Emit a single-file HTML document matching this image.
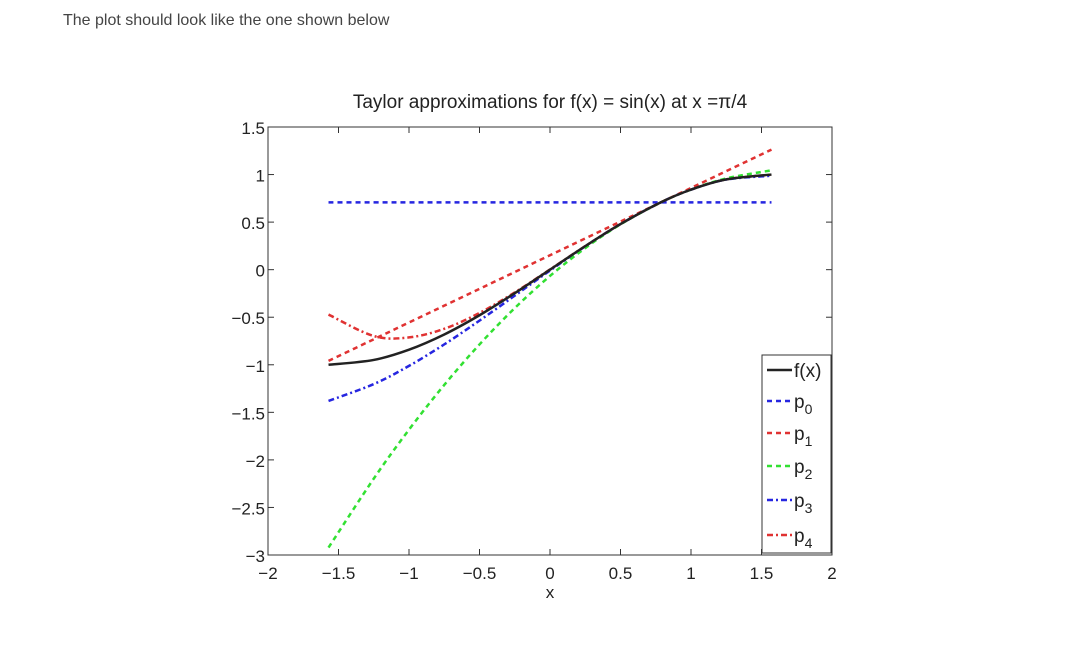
<!DOCTYPE html>
<html><head><meta charset="utf-8"><style>
body{margin:0;background:#fff;width:1080px;height:655px;overflow:hidden;font-family:"Liberation Sans",sans-serif;}
</style></head><body>
<div style="position:absolute;left:63px;top:12px;font-size:16px;color:#444;">The plot should look like the one shown below</div>
<svg id="chart" width="1080" height="655" style="position:absolute;left:0;top:0" font-family="Liberation Sans, sans-serif"></svg>
<script>
const xs=[-1.5708,-1.25,-1,-0.75,-0.5,-0.25,0,0.25,0.5,0.7854,1,1.25,1.5708];
const fVals=[-1,-0.949,-0.8415,-0.6816,-0.4794,-0.2474,0,0.2474,0.4794,0.7071,0.8415,0.949,1];
const p0Vals=[0.7071,0.7071,0.7071,0.7071,0.7071,0.7071,0.7071,0.7071,0.7071,0.7071,0.7071,0.7071,0.7071];
const p1Vals=[-0.959,-0.732,-0.5554,-0.3786,-0.2018,-0.025,0.1517,0.3285,0.5053,0.7071,0.8588,1.0356,1.2625];
const p2Vals=[-2.922,-2.197,-1.682,-1.2121,-0.786,-0.404,-0.0663,0.2272,0.4765,0.7071,0.8426,0.9593,1.0444];
const p3Vals=[-1.38,-1.203,-1.0117,-0.7855,-0.5356,-0.2732,-0.0092,0.2453,0.4793,0.7071,0.8414,0.9475,0.9873];
const p4Vals=[-0.472,-0.6975,-0.7123,-0.6217,-0.4552,-0.2394,0.002,0.2477,0.4794,0.7071,0.8415,0.9489,0.9985];
const xTicks=[-2,-1.5,-1,-0.5,0,0.5,1,1.5,2];
const xTickLabels=["\u22122","\u22121.5","\u22121","\u22120.5","0","0.5","1","1.5","2"];
const yTicks=[-3,-2.5,-2,-1.5,-1,-0.5,0,0.5,1,1.5];
const yTickLabels=["\u22123","\u22122.5","\u22122","\u22121.5","\u22121","\u22120.5","0","0.5","1","1.5"];
const seriesNames=["f(x)","p0","p1","p2","p3","p4"];

const L=268,R=832,T=127,B=555;
const sx=v=>L+(v+2)/4*(R-L);
const sy=v=>B-(v+3)/4.5*(B-T);
const svg=document.getElementById('chart');
const NS="http://www.w3.org/2000/svg";
function mk(tag,attrs,parent){const e=document.createElementNS(NS,tag);for(const k in attrs)e.setAttribute(k,attrs[k]);(parent||svg).appendChild(e);return e;}
function smooth(p){
  let d='M'+p[0][0]+','+p[0][1];
  for(let i=0;i<p.length-1;i++){
    const a=p[Math.max(0,i-1)],b=p[i],c=p[i+1],e=p[Math.min(p.length-1,i+2)];
    const c1x=b[0]+(c[0]-a[0])/6,c1y=b[1]+(c[1]-a[1])/6;
    const c2x=c[0]-(e[0]-b[0])/6,c2y=c[1]-(e[1]-b[1])/6;
    d+=' C'+c1x+','+c1y+' '+c2x+','+c2y+' '+c[0]+','+c[1];
  }
  return d;
}

const frame=mk('rect',{x:L,y:T,width:R-L,height:B-T,fill:'#fff',stroke:'#333','stroke-width':1});



xTicks.forEach((t,i)=>{
  const x=sx(t);
  mk('line',{x1:x,x2:x,y1:B,y2:B-6,stroke:'#333'});
  mk('line',{x1:x,x2:x,y1:T,y2:T+6,stroke:'#333'});
  const tx=mk('text',{x:x,y:B+24,'text-anchor':'middle','font-size':17,fill:'#222'});
  tx.textContent=xTickLabels[i];
  
  
});
yTicks.forEach((t,i)=>{
  const y=sy(t);
  mk('line',{x1:L,x2:L+6,y1:y,y2:y,stroke:'#333'});
  mk('line',{x1:R,x2:R-6,y1:y,y2:y,stroke:'#333'});
  const tx=mk('text',{x:L-3,y:y+7,'text-anchor':'end','font-size':17,fill:'#222'});
  tx.textContent=yTickLabels[i];
  
  
});

const styles=[
 {c:'#222',d:'',w:2.5},
 {c:'#2626e0',d:'5,4',w:2.5},
 {c:'#e03232',d:'5,4',w:2.5},
 {c:'#32e032',d:'5,4',w:2.5},
 {c:'#2626e0',d:'6,3,2,3',w:2.5},
 {c:'#e03232',d:'6,3,2,3',w:2.5}];
const all=[fVals,p0Vals,p1Vals,p2Vals,p3Vals,p4Vals];
[5,4,3,2,1,0].forEach(k=>{
  const pts=xs.map((x,i)=>[sx(x),sy(all[k][i])]);
  const pl=mk('path',{d:smooth(pts),fill:'none',stroke:styles[k].c,'stroke-width':styles[k].w,'stroke-dasharray':styles[k].d});
  
  
});

const title=mk('text',{x:550,y:108,'text-anchor':'middle','font-size':19,fill:'#222'});
title.textContent="Taylor approximations for f(x) = sin(x) at x =\u03c0/4";


const xl=mk('text',{x:550,y:598,'text-anchor':'middle','font-size':17,fill:'#222'});
xl.textContent="x";



const lg=mk('g',{});


mk('rect',{x:762,y:355,width:69,height:198,fill:'#fff',stroke:'#333'},lg);
const ly=[370,401,433,466,500,535];
seriesNames.forEach((n,i)=>{
  const g=mk('g',{},lg);
  
  
  mk('line',{x1:767,x2:792,y1:ly[i],y2:ly[i],stroke:styles[i].c,'stroke-width':2.5,'stroke-dasharray':styles[i].d},g);
  const t=mk('text',{x:794,y:ly[i]+7,'font-size':19,fill:'#222'},g);
  if(i===0){t.textContent='f(x)';}
  else{t.textContent='p';const s=mk('tspan',{dy:6,'font-size':14},t);s.textContent=String(i-1);}
});
</script>
</body></html>
